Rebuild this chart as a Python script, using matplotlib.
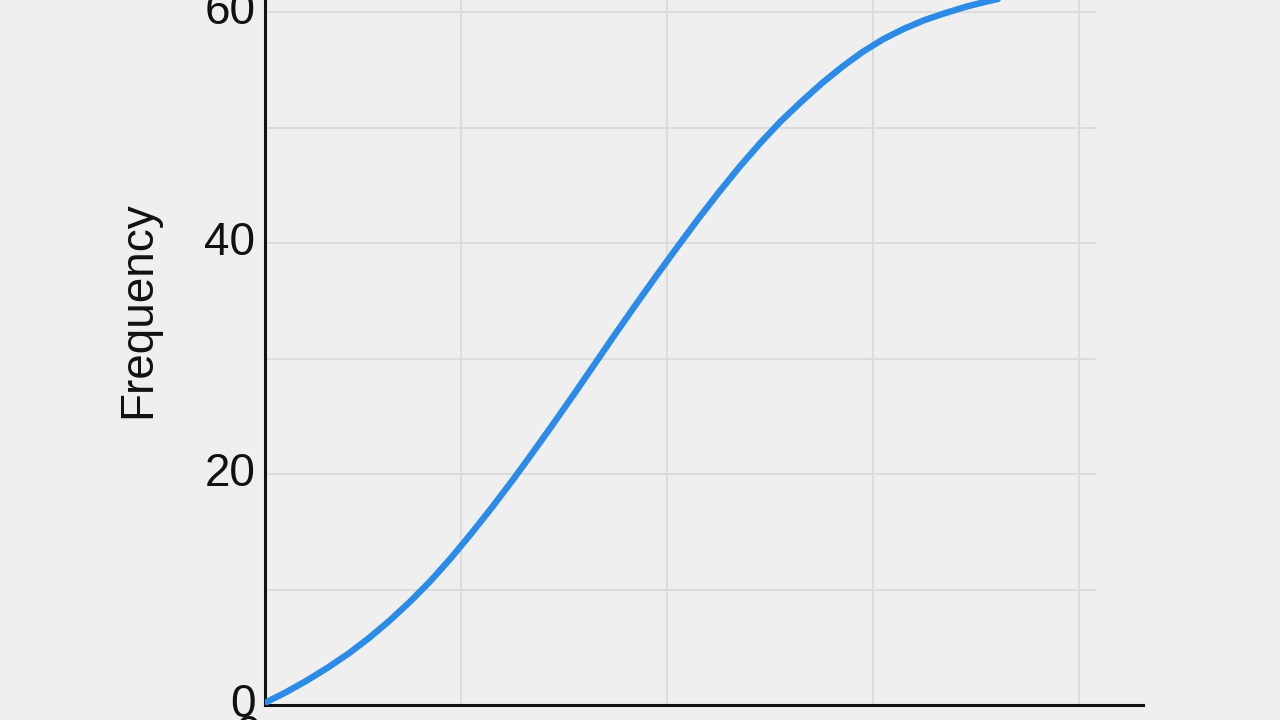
import matplotlib
matplotlib.use("Agg")
import matplotlib.pyplot as plt
from matplotlib.transforms import ScaledTranslation

# Data
x_values = [0.05, 0.15, 0.25, 0.35, 0.45, 0.55, 0.65, 0.75, 0.85, 0.95,
            1.05, 1.15, 1.25, 1.35, 1.45, 1.55, 1.65, 1.75, 1.85, 1.95,
            2.05, 2.15, 2.25, 2.35, 2.45, 2.55, 2.65, 2.75, 2.85, 2.95,
            3.05, 3.15, 3.25, 3.35, 3.45, 3.55, 3.65, 3.75]
freq_values = [0.2, 1.1, 2.1, 3.2, 4.4, 5.75, 7.25, 8.9, 10.7, 12.7,
               14.85, 17.1, 19.45, 21.9, 24.4, 26.95, 29.55, 32.15, 34.7, 37.2,
               39.65, 42.05, 44.35, 46.55, 48.6, 50.5, 52.2, 53.8, 55.25, 56.55,
               57.65, 58.55, 59.3, 59.9, 60.45, 60.9, 61.3, 61.6]
y_ticks = [0, 20, 40, 60]
y_grid = [10, 20, 30, 40, 50, 60]
x_grid = [1, 2, 3, 4]
y_label = "Frequency"
x_zero_label = "0"

plt.rcParams['font.family'] = ['Liberation Sans', 'DejaVu Sans']

BG = "#efefef"
TXT = "#111111"
fig = plt.figure(figsize=(12.8, 7.2), dpi=100, facecolor=BG)

W, H = 1280, 720
x0_px, x1_px = 265, 1143
xzero_px = 255
y0_px = 705
px_per_x = 206.0
px_per_y = 11.55
ymax = 70
xmin = (x0_px - xzero_px) / px_per_x
xmax = (x1_px - xzero_px) / px_per_x
ax = fig.add_axes([x0_px / W, (H - y0_px) / H, (x1_px - x0_px) / W, ymax * px_per_y / H])
ax.set_facecolor(BG)
ax.set_xlim(xmin, xmax)
ax.set_ylim(0, ymax)

grid_c = "#dcdcdc"
grid_end = (1096 - xzero_px) / px_per_x
ax.hlines(y_grid, xmin, grid_end, colors=grid_c, linewidth=1.5, zorder=1)
for gx in x_grid:
    ax.axvline(gx, color=grid_c, linewidth=1.5, zorder=1)

ax.plot(x_values, freq_values, color="#2b8be6", linewidth=4.6,
        solid_capstyle="round", solid_joinstyle="round", zorder=3)

for s in ["top", "right"]:
    ax.spines[s].set_visible(False)
for s in ["left", "bottom"]:
    ax.spines[s].set_linewidth(2.2)
    ax.spines[s].set_color(TXT)

ax.set_yticks(y_ticks)
ax.set_yticklabels([str(v) for v in y_ticks])
ax.tick_params(axis="y", length=0, pad=7, labelsize=33, labelcolor=TXT)
shift = ScaledTranslation(0, 5 / 100, fig.dpi_scale_trans)
for lab in ax.get_yticklabels():
    lab.set_transform(lab.get_transform() + shift)
ax.set_xticks([])

ax.annotate(x_zero_label, xy=(-0.034, 0), xytext=(0, -9), textcoords="offset pixels",
            ha="center", va="top", fontsize=33, color=TXT, annotation_clip=False)

ax.set_ylabel(y_label, fontsize=33, color=TXT)
ax.yaxis.set_label_coords((160 - x0_px) / (x1_px - x0_px), (y0_px - 310) / (ymax * px_per_y))

fig.savefig("out.png", dpi=100, facecolor=BG)
